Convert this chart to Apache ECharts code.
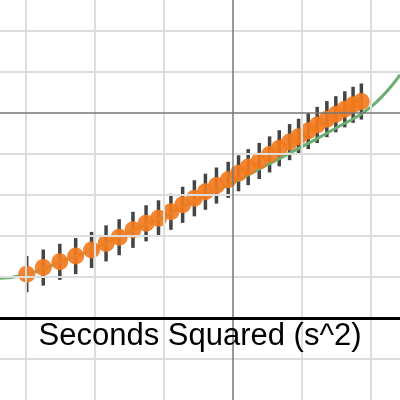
<!DOCTYPE html>
<html><head><meta charset="utf-8">
<script src="https://cdn.jsdelivr.net/npm/echarts@6/dist/echarts.min.js"></script>
<style>html,body{margin:0;background:#fff}#c{width:400px;height:400px}</style>
</head><body><div id="c"></div>
<script>
// measured points (graph units)
let xs = [-2.99,-2.75,-2.51,-2.28,-2.05,-1.84,-1.65,-1.45,-1.26,-1.08,-0.90,-0.73,-0.56,-0.40,-0.24,-0.07,0.08,0.22,0.38,0.53,0.67,0.82,0.95,1.09,1.22,1.36,1.49,1.62,1.74,1.86];
let ys = [-3.93,-3.77,-3.63,-3.49,-3.34,-3.18,-3.03,-2.85,-2.69,-2.57,-2.41,-2.24,-2.08,-1.92,-1.77,-1.63,-1.47,-1.32,-1.17,-1.01,-0.86,-0.71,-0.58,-0.44,-0.29,-0.15,-0.03,0.09,0.20,0.28];
let errSize = 0.44;
let fitX = [-3.4,-3.0,-2.5,-2.0,-1.5,-1.0,-0.5,0,0.5,1.0,1.5,2.0,2.42];
let fitY = [-4.03,-3.94,-3.63,-3.30,-2.90,-2.52,-2.10,-1.70,-1.26,-0.82,-0.36,0.15,0.93];
let gridXs = [-3,-2,-1,1,2];
let gridYs = [-6,-4,-3,-2,-1,1,2];
let axisLabel = "Seconds Squared (s^2)";

let pts = xs.map((x,i)=>[x,ys[i]]);
let myChart = echarts.init(document.getElementById('c'));
myChart.setOption({
    animation:false,
    grid:{left:0,right:0,top:0,bottom:0},
    xAxis:{type:'value',min:-3.377,max:2.42,show:false},
    yAxis:{type:'value',min:-7,max:2.756,show:false},
    series:[
        {type:'line',data:[],silent:true,
         markLine:{symbol:'none',silent:true,label:{show:false},
            data:gridXs.map(v=>({xAxis:v,lineStyle:{color:'#ddd',width:2,type:'solid'}}))
              .concat(gridYs.map(v=>({yAxis:v,lineStyle:{color:'#ddd',width:2,type:'solid'}})))
              .concat([{xAxis:0,lineStyle:{color:'#777',width:1.5,type:'solid'}},
                       {yAxis:0,lineStyle:{color:'#777',width:1.5,type:'solid'}}])}},
        {type:'line',data:fitX.map((x,i)=>[x,fitY[i]]),smooth:true,symbol:'none',
         lineStyle:{color:'#6aae72',width:3}},
        {type:'custom',data:pts,renderItem:(p,api)=>{
            let a=api.coord([api.value(0),api.value(1)+errSize]);
            let b=api.coord([api.value(0),api.value(1)-errSize]);
            return {type:'line',shape:{x1:a[0],y1:a[1],x2:b[0],y2:b[1]},
                style:{stroke:'#444',lineWidth:3.5}};
        },z:3},
        {type:'scatter',data:pts,symbolSize:17,itemStyle:{color:'#f47c20',opacity:0.92},z:4},
        {type:'line',data:[],silent:true,markLine:{symbol:'none',silent:true,label:{show:false},
            data:[{yAxis:-5,lineStyle:{color:'#000',width:3,type:'solid'}}]},z:5}
    ],
    graphic:[{type:'text',left:'center',top:321,z:10,
        style:{text:axisLabel,font:'31px "Liberation Sans", Arial',fill:'#000'}}]
});
</script></body></html>
